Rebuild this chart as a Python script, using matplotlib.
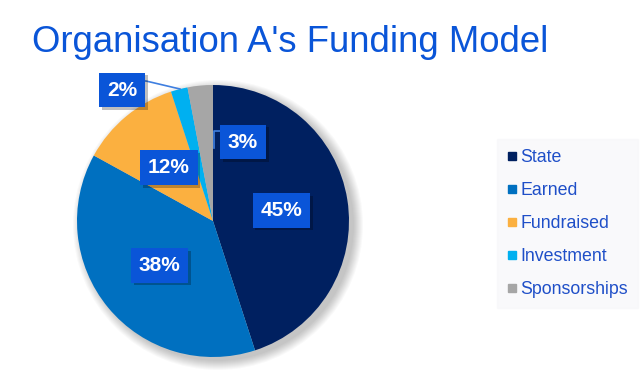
import numpy as np
import matplotlib
matplotlib.use("Agg")
import matplotlib.pyplot as plt
import matplotlib.patheffects as pe
from matplotlib.patches import Circle
from matplotlib.lines import Line2D

# data
sources = ["State", "Earned", "Fundraised", "Investment", "Sponsorships"]
shares = [45, 38, 12, 2, 3]
colours = ["#002060", "#0070c0", "#fbb040", "#00b0f0", "#a6a6a6"]
title = "Organisation A's Funding Model"

W, H = 642, 374
BLUE = "#0a55d8"
TXT = "#1f4fc8"

plt.rcParams["font.family"] = ["Liberation Sans", "DejaVu Sans"]

def py(y):
    # pixel row (top down) -> data y
    return H - y

fig = plt.figure(figsize=(W / 100, H / 100), dpi=100)
ax = fig.add_axes([0, 0, 1, 1])

cx, cy, r = 213, py(221), 136

# soft shadow under the pie
for k in range(10):
    ax.add_patch(Circle((cx + 5, cy - 4), r + k, fc="black",
                        ec="none", alpha=0.025, zorder=0))

wedges, _ = ax.pie(shares, colors=colours, startangle=90, counterclock=False,
                   center=(cx, cy), radius=r,
                   wedgeprops=dict(linewidth=0, zorder=2))

ax.set_xlim(0, W)
ax.set_ylim(0, H)
ax.set_aspect("equal")
ax.axis("off")

def label(x, y, s):
    t = ax.text(x, y, s, ha="center", va="center", color="white",
                fontsize=15, fontweight="bold", zorder=6,
                bbox=dict(boxstyle="square,pad=0.38", fc=BLUE, ec="none"))
    t.get_bbox_patch().set_path_effects(
        [pe.SimplePatchShadow(offset=(2, -2), shadow_rgbFace="black", alpha=0.25),
         pe.Normal()])

# inner labels for the three big slices
for w, v in zip(wedges[:3], shares[:3]):
    mid = np.deg2rad((w.theta1 + w.theta2) / 2)
    label(cx + 0.51 * r * np.cos(mid), cy + 0.51 * r * np.sin(mid), f"{v}%")

# small slices: labels pulled out with leader lines
ax.plot([140, 146, 180], [py(81), py(81), py(89)], color="#3f7fe0", lw=1.2, zorder=5)
label(122, py(90), f"{shares[3]}%")
ax.plot([223, 214, 214], [py(131), py(131), py(148)], color="#3f7fe0", lw=1.2, zorder=5)
label(243, py(142), f"{shares[4]}%")

fig.text(32 / W, 1 - 42 / H, title, fontsize=26.3, color=BLUE, va="center", ha="left")

handles = [Line2D([], [], marker="s", ls="none", markersize=6, color=c) for c in colours]
leg = fig.legend(handles, sources, loc="upper left",
                 bbox_to_anchor=(497 / W, 1 - 139 / H),
                 frameon=True, fancybox=False, fontsize=12.8,
                 labelspacing=0.9, handletextpad=0.15, handlelength=0.6,
                 borderpad=0.55, borderaxespad=0, labelcolor=TXT)
leg.get_frame().set_facecolor("#f8f8fa")
leg.get_frame().set_edgecolor("#f8f8fa")

fig.savefig("out.png", dpi=100, facecolor="white")
